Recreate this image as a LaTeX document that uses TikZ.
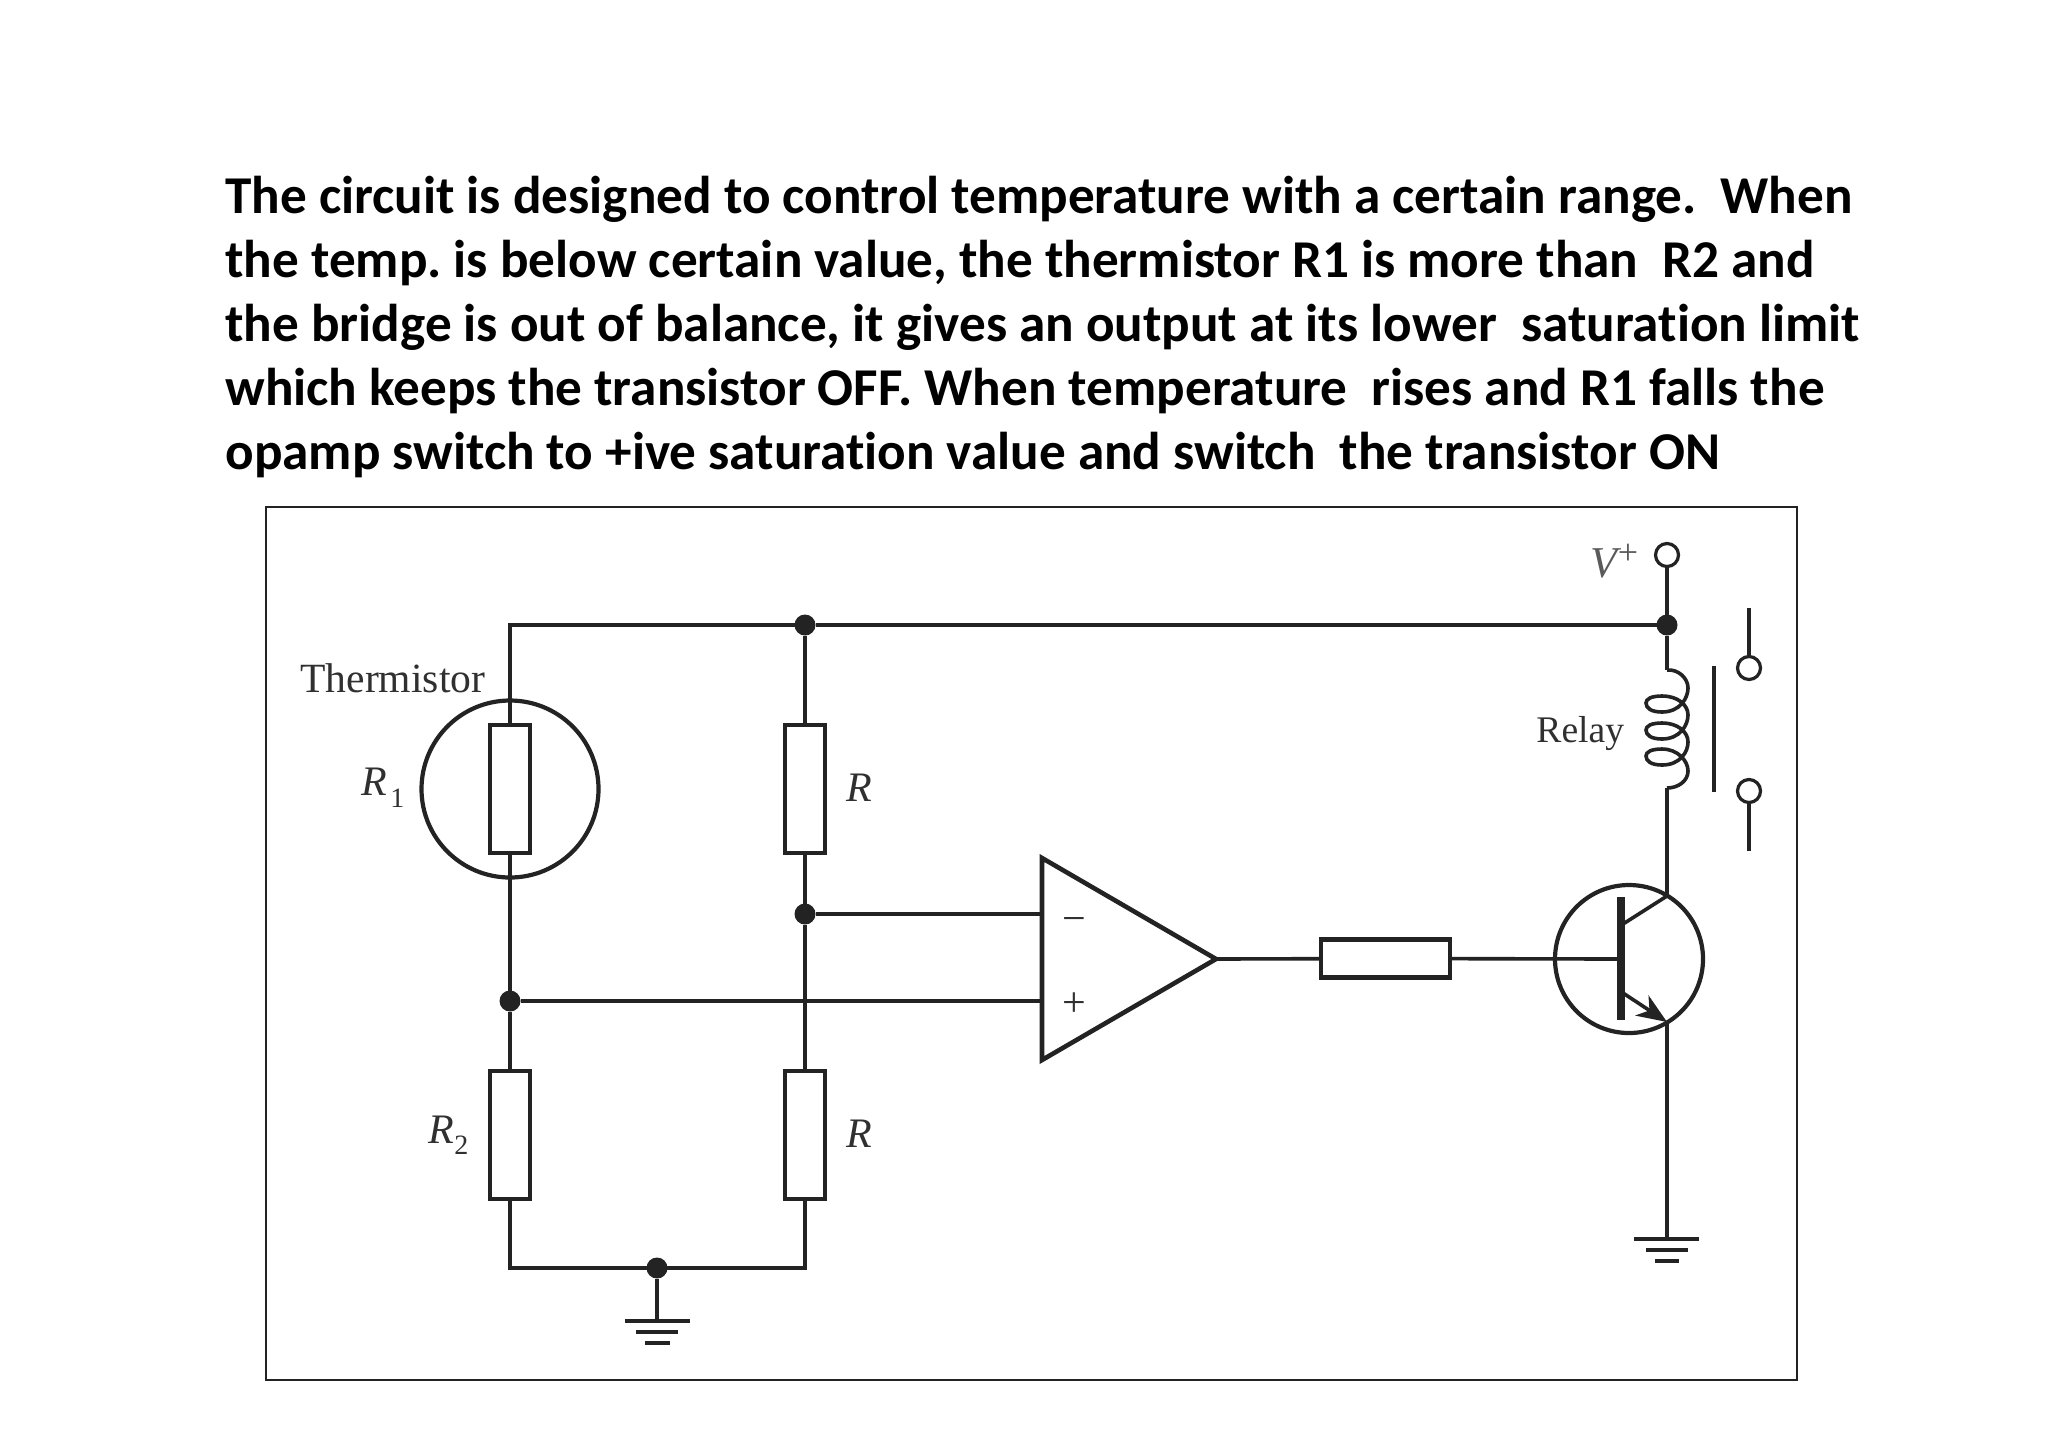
\documentclass[tikz,border=0pt]{standalone}
\usepackage{fontspec}
\setmainfont{Liberation Serif}
\newfontfamily\bodyfont{Carlito}[BoldFont={Carlito Bold},Ligatures=NoCommon]
\usetikzlibrary{arrows.meta,shapes.geometric}
\frenchspacing
\definecolor{ink}{HTML}{232323}
\definecolor{lab}{HTML}{303030}
\tikzset{
  wire/.style={draw=ink,line width=1.8pt},
  res/.style={draw=ink,line width=2.3pt,fill=white,inner sep=0pt,outer sep=0pt},
  vres/.style={res,minimum width=20pt,minimum height=64pt},
  hres/.style={res,minimum width=64.5pt,minimum height=19pt},
  jdot/.style={circle,fill=ink,minimum size=10.5pt,inner sep=0pt,outer sep=0pt},
  term/.style={circle,draw=ink,line width=1.6pt,fill=white,minimum size=11.5pt,inner sep=0pt,outer sep=0pt},
  ring/.style={circle,draw=ink,line width=2.1pt,inner sep=0pt,outer sep=0pt},
  gnd/.style={draw=ink,line width=2.2pt},
  bodyline/.style={anchor=base west,inner sep=0pt,font=\bodyfont\bfseries\fontsize{26.6pt}{30pt}\selectfont,text=black},
  lbl/.style={inner sep=0pt,anchor=base west,text=lab},
}
\begin{document}
\begin{tikzpicture}[x=0.5pt,y=-0.5pt]
\useasboundingbox (0,0) rectangle (2048,1447);
\fill[white] (0,0) rectangle (2048,1447);
% text
\node[bodyline] (t1) at (225,213.5) {The circuit is designed to control temperature with a certain range.\ \ When};
\node[bodyline] (t2) at (225,277.5) {the temp. is below certain value, the thermistor R1 is more than\ \ R2 and};
\node[bodyline] (t3) at (225,341.5) {the bridge is out of balance, it gives an output at its lower\ \ saturation limit};
\node[bodyline] (t4) at (225,405.5) {which keeps the transistor OFF. When temperature\ \ rises and R1 falls the};
\node[bodyline] (t5) at (225,469.5) {opamp switch to +ive saturation value and switch\ \ the transistor ON};
% frame
\draw[draw=ink,line width=0.7pt] (266,507) rectangle (1797,1380);
\begin{scope}[yshift=-0.5pt]
% bridge
\coordinate (tl) at (510,624);
\node[jdot] (jtop) at (805,624) {};
\node[jdot] (jrel) at (1667,624) {};
\node[term] (vp) at (1667,554) {};
\node[ring,minimum size=88.5pt] (th) at (510,788) {};
\node[vres] (r1) at (510,788) {};
\node[vres] (r3) at (805,788) {};
\node[jdot] (jm) at (805,913) {};
\node[jdot] (jp) at (510,1000) {};
\node[vres] (r2) at (510,1134) {};
\node[vres] (r4) at (805,1134) {};
\coordinate (bl) at (510,1267);
\coordinate (br) at (805,1267);
\node[jdot] (jg) at (657,1267) {};
\draw[wire] (r1.north) -- (tl) -- (jtop) -- (jrel);
\draw[wire] (vp) -- (jrel);
\draw[wire] (jtop) -- (r3);
\draw[wire] (r3) -- (jm);
\draw[wire] (r1) -- (jp);
\draw[wire] (jp) -- (r2);
\draw[wire] (r2.south) -- (bl) -- (br) -- (r4.south);
% left ground
\coordinate (g1) at (657,1320);
\draw[wire] (jg) -- (g1);
\draw[gnd] (625,1320) -- (690,1320);
\draw[gnd] (636,1331) -- (678,1331);
\draw[gnd] (645,1342) -- (670,1342);
% op-amp
\coordinate (opa) at (1042,857);
\coordinate (opb) at (1042,1059);
\coordinate (opc) at (1216,958);
\coordinate (opm) at (1042,913);
\coordinate (opp) at (1042,1000);
\draw[wire] (jm) -- (r4);
\draw[wire] (jm) -- (opm);
\draw[wire] (jp) -- (opp);
\draw[draw=ink,line width=2.3pt,miter limit=10] (opa) -- (opc) -- (opb) -- cycle;
\node[inner sep=0pt,text=lab,font=\fontsize{21pt}{24pt}\selectfont] (minus) at (1074,924) {−};
\node[inner sep=0pt,text=lab,font=\fontsize{21pt}{24pt}\selectfont] (plus) at (1074,1004) {+};
% output resistor and transistor
\node[hres] (rb) at (1385.5,957.5) {};
\node[ring,minimum size=74pt] (q) at (1629,958) {};
\coordinate (bt) at (1621,896);
\coordinate (bb) at (1621,1019);
\coordinate (bs) at (1618,958);
\coordinate (cin) at (1623,923);
\coordinate (col) at (1667,895);
\coordinate (ein) at (1623,992);
\coordinate (emi) at (1667,1021);
\draw[wire] (opc) -- (rb);
\draw[wire] (rb) -- (bs);
\draw[draw=ink,line width=4.2pt] (bt) -- (bb);
\draw[wire] (cin) -- (col);
\draw[wire,-{Stealth[length=15pt,width=12pt,inset=4.5pt]}] (ein) -- (emi);
% relay coil
\coordinate (ct) at (1667,669);
\coordinate (cb) at (1667,787);
\draw[wire] (jrel) -- (ct);
\draw[wire] (ct)
 .. controls (1678,668) and (1688,677) .. (1688,687)
 .. controls (1688,697) and (1680,711) .. (1662,711)
 .. controls (1651,711) and (1646,707) .. (1646,702)
 .. controls (1646,698) and (1651,695) .. (1662,695)
 .. controls (1678,695) and (1688,704) .. (1688,714)
 .. controls (1688,724) and (1680,738) .. (1662,738)
 .. controls (1651,738) and (1646,734) .. (1646,729)
 .. controls (1646,725) and (1651,722) .. (1662,722)
 .. controls (1678,722) and (1688,731) .. (1688,741)
 .. controls (1688,751) and (1680,764) .. (1662,764)
 .. controls (1651,764) and (1646,760) .. (1646,755)
 .. controls (1646,751) and (1651,748) .. (1662,748)
 .. controls (1678,748) and (1688,760) .. (1688,770)
 .. controls (1688,780) and (1678,787) .. (cb);
\draw[wire] (cb) -- (col);
\draw[wire] (emi) -- (1667,1238);
\draw[gnd] (1634,1238) -- (1699,1238);
\draw[gnd] (1646,1249) -- (1688,1249);
\draw[gnd] (1655,1260) -- (1679,1260);
% relay contacts
\coordinate (armt) at (1714,665);
\coordinate (armb) at (1714,791);
\draw[wire] (armt) -- (armb);
\node[term] (k1) at (1749,667) {};
\node[term] (k2) at (1749,790) {};
\coordinate (k1e) at (1749,607);
\coordinate (k2e) at (1749,850);
\draw[wire] (k1e) -- (k1);
\draw[wire] (k2) -- (k2e);
% labels
\node[lbl,font=\fontsize{20.8pt}{24pt}\selectfont] (lth) at (300,691) {Thermistor};
\node[lbl,font=\fontsize{18.8pt}{22pt}\selectfont] (lrel) at (1536,741) {Relay};
\node[lbl,font=\itshape\fontsize{21pt}{24pt}\selectfont] (lr1) at (361,794) {R};
\node[lbl,font=\fontsize{14pt}{16pt}\selectfont] (lr1s) at (390,806) {1};
\node[lbl,font=\itshape\fontsize{21pt}{24pt}\selectfont] (lr2) at (428,1142) {R};
\node[lbl,font=\fontsize{14pt}{16pt}\selectfont] (lr2s) at (454,1153) {2};
\node[lbl,font=\itshape\fontsize{21pt}{24pt}\selectfont] (lr3) at (846,800) {R};
\node[lbl,font=\itshape\fontsize{21pt}{24pt}\selectfont] (lr4) at (846,1146) {R};
\node[lbl,text=lab!80,font=\itshape\fontsize{22pt}{24pt}\selectfont] (lv) at (1590,576) {V};
\node[inner sep=0pt,text=lab!80,font=\fontsize{18pt}{20pt}\selectfont] (lvp) at (1628,553) {+};
\end{scope}
\end{tikzpicture}
\end{document}
